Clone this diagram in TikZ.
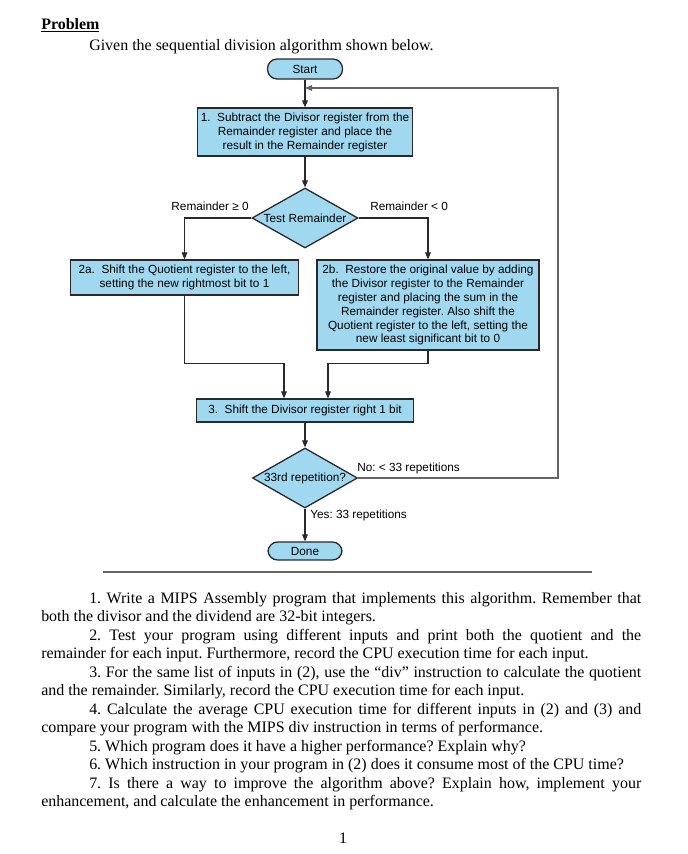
\documentclass[tikz,border=0pt]{standalone}
\usepackage{fontspec}
\setmainfont{Liberation Serif}
\newfontfamily\arialf{Liberation Sans}
\usetikzlibrary{shapes.geometric,arrows.meta,calc}
\definecolor{flowblue}{RGB}{160,216,240}
\definecolor{edgedark}{RGB}{40,40,45}
\definecolor{loopgray}{RGB}{100,100,100}
\frenchspacing
\begin{document}
\begin{tikzpicture}[x=0.78pt,y=-0.78pt,
  flowfont/.style={font=\arialf\fontsize{9.2}{10.9}\selectfont},
  procbox/.style={flowfont, rectangle, fill=flowblue, draw=edgedark, line width=1pt,
    inner sep=0pt, align=center},
  termbox/.style={flowfont, rectangle, rounded corners=7.5pt, fill=flowblue, draw=edgedark,
    line width=1pt, inner sep=0pt},
  decbox/.style={diamond, fill=flowblue, draw=edgedark, line width=1pt, inner sep=0pt},
  lab/.style={flowfont, inner sep=0pt},
  conn/.style={draw=edgedark, line width=0.9pt, -{Triangle[length=5.5pt,width=4.5pt]}},
  txt/.style={anchor=base west, inner sep=0pt, font=\fontsize{12.45}{14.4}\selectfont}]
\useasboundingbox (0,0) rectangle (687,854);

% header
\node[txt] (prob) at (41,29) {\underline{\textbf{Problem}}};
\node[txt] (given) at (89,50) {Given the sequential division algorithm shown below.};

% flowchart nodes
\node[termbox, minimum width={75*0.78pt}, minimum height={20*0.78pt}] (start) at (305,69) {Start};
\node[procbox, minimum width={215*0.78pt}, minimum height={48*0.78pt}] (b1) at (305,132)
  {1.\ \ Subtract the Divisor register from the\\Remainder register and place the\\result in the Remainder register};
\node[decbox, minimum width={106*0.78pt}, minimum height={60*0.78pt}] (d1) at (305,218) {};
\node[lab] (d1t) at (d1) {Test Remainder};
\node[procbox, minimum width={228*0.78pt}, minimum height={35*0.78pt}] (b2a) at (184.5,277.5)
  {2a.\ \ Shift the Quotient register to the left,\\setting the new rightmost bit to 1};
\node[procbox, minimum width={222*0.78pt}, minimum height={90*0.78pt}] (b2b) at (428,305)
  {2b.\ \ Restore the original value by adding\\the Divisor register to the Remainder\\register and placing the sum in the\\Remainder register. Also shift the\\Quotient register to the left, setting the\\new least significant bit to 0};
\node[procbox, minimum width={217*0.78pt}, minimum height={23*0.78pt}] (b3) at (305,410.5)
  {3.\ \ Shift the Divisor register right 1 bit};
\node[decbox, minimum width={105*0.78pt}, minimum height={60*0.78pt}] (d2) at (305,478) {};
\node[lab] (d2t) at (d2) {33rd repetition?};
\node[termbox, minimum width={74*0.78pt}, minimum height={18*0.78pt}] (done) at (305,551) {Done};

% branch labels
\node[lab, anchor=base east] (lge) at (249,210.5) {Remainder ≥ 0};
\node[lab, anchor=base west] (llt) at (370,210.5) {Remainder < 0};
\node[lab, anchor=base west] (lno) at (357,471.5) {No: < 33 repetitions};
\node[lab, anchor=base west] (lyes) at (310,518.5) {Yes: 33 repetitions};

% connectors
\coordinate (loopin) at (305,88);
\coordinate (loopcorner) at (558,88);
\draw[conn] (start) -- (b1);
\draw[conn] (b1) -- (d1);
\draw[conn] (d1.west) -| (b2a.north);
\draw[conn] (d1.east) -| (b2b.north);
\draw[conn] (b2a.south) -- ++(0,68) -| ($(b3.north)+(-21,0)$);
\draw[conn] (b2b.south) -- ++(0,13) -| ($(b3.north)+(23,0)$);
\draw[conn] (b3) -- (d2);
\draw[conn] (d2) -- (done);
\draw[conn, draw=loopgray] (d2.east) -| (loopcorner) -- (loopin);

% separator
\draw[draw=black!60, line width=0.8pt] (103,572) -- (592,572);

% questions
\node[txt] (q1a) at (89,603.5) {\hbox to 430.56pt{1. Write a MIPS Assembly program that implements this algorithm. Remember that}};
\node[txt] (q1b) at (41,621.95) {both the divisor and the dividend are 32-bit integers.};
\node[txt] (q2a) at (89,640.4) {\hbox to 430.56pt{2. Test your program using different inputs and print both the quotient and the}};
\node[txt] (q2b) at (41,658.85) {remainder for each input. Furthermore, record the CPU execution time for each input.};
\node[txt] (q3a) at (89,677.3) {\hbox to 430.56pt{3. For the same list of inputs in (2), use the “div” instruction to calculate the quotient}};
\node[txt] (q3b) at (41,695.75) {and the remainder. Similarly, record the CPU execution time for each input.};
\node[txt] (q4a) at (89,714.2) {\hbox to 430.56pt{4. Calculate the average CPU execution time for different inputs in (2) and (3) and}};
\node[txt] (q4b) at (41,732.65) {compare your program with the MIPS div instruction in terms of performance.};
\node[txt] (q5) at (89,751.1) {5. Which program does it have a higher performance? Explain why?};
\node[txt] (q6) at (89,769.55) {6. Which instruction in your program in (2) does it consume most of the CPU time?};
\node[txt] (q7a) at (89,788.0) {\hbox to 430.56pt{7. Is there a way to improve the algorithm above? Explain how, implement your}};
\node[txt] (q7b) at (41,806.45) {enhancement, and calculate the enhancement in performance.};

\node[txt, anchor=base] (pg) at (343,843) {1};
\end{tikzpicture}
\end{document}
